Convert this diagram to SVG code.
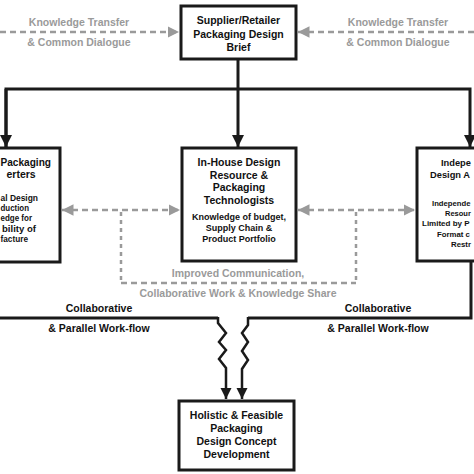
<svg xmlns="http://www.w3.org/2000/svg" width="474" height="474" viewBox="0 0 474 474">
<defs>
<style>
.box{fill:#fff;stroke:#1a1a1a;stroke-width:3}
.t{font-family:"Liberation Sans",Arial,sans-serif;font-weight:bold;font-size:10.5px;fill:#111;text-anchor:middle}
.s{font-family:"Liberation Sans",Arial,sans-serif;font-weight:bold;font-size:9px;fill:#111;text-anchor:middle}
.g{font-family:"Liberation Sans",Arial,sans-serif;font-weight:bold;font-size:10.5px;fill:#9a9a9a;text-anchor:middle}
.st{text-anchor:start}
.ln{fill:none;stroke:#1a1a1a;stroke-width:3}
.zz{fill:none;stroke:#1a1a1a;stroke-width:2.5;stroke-linejoin:miter}
.dh{fill:none;stroke:#9a9a9a;stroke-width:2.5;stroke-dasharray:6 4}
.dv{fill:none;stroke:#9a9a9a;stroke-width:2.5;stroke-dasharray:4 4}
</style>
<marker id="ab" viewBox="0 0 10 10" refX="10" refY="5" markerWidth="4" markerHeight="4" orient="auto" markerUnits="strokeWidth"><path d="M0,0L10,5L0,10z" fill="#1a1a1a"/></marker>
<marker id="ab2" viewBox="0 0 10 10" refX="10" refY="5" markerWidth="4.6" markerHeight="4.6" orient="auto" markerUnits="strokeWidth"><path d="M0,0L10,5L0,10z" fill="#1a1a1a"/></marker>
<marker id="ag" viewBox="0 0 10 10" refX="10" refY="5" markerWidth="4.6" markerHeight="4.6" orient="auto-start-reverse" markerUnits="strokeWidth"><path d="M0,0L10,5L0,10z" fill="#9a9a9a"/></marker>
</defs>
<rect width="474" height="474" fill="#fff"/>

<g id="connectors">
<path class="ln" d="M238,59V147" marker-end="url(#ab)"/>
<path class="ln" d="M6,147V89H470V147" marker-end="url(#ab)"/>
<path class="ln" d="M6,89V147" marker-end="url(#ab)"/>
<path class="ln" d="M-5,262V318H218"/>
<path class="ln" d="M471,261V318H248"/>
<path class="zz" d="M218,317V323L226,333L219,342L226,350L219,359L226,368V399" marker-end="url(#ab2)"/>
<path class="zz" d="M248,317V325L242,333L248,342L242,351L248,360L242,369V399" marker-end="url(#ab2)"/>
<path class="dh" d="M0,32H179" marker-end="url(#ag)"/>
<path class="dh" d="M474,32H298" marker-end="url(#ag)"/>
<path class="dh" d="M62,210H180" marker-start="url(#ag)" marker-end="url(#ag)"/>
<path class="dh" d="M298,210H415" marker-start="url(#ag)" marker-end="url(#ag)"/>
<path class="dv" d="M121,212V283"/>
<path class="dv" d="M356,212V283"/>
<path class="dh" d="M121,283H356"/>
</g>

<g id="labels">
<text class="g" x="79" y="26">Knowledge Transfer</text>
<text class="g" x="79" y="46">&amp; Common Dialogue</text>
<text class="g" x="398" y="26">Knowledge Transfer</text>
<text class="g" x="398" y="46">&amp; Common Dialogue</text>
<text class="g" x="238" y="277">Improved Communication,</text>
<text class="g" x="238" y="297">Collaborative Work &amp; Knowledge Share</text>
<text class="t" x="99" y="312">Collaborative</text>
<text class="t" x="99" y="332">&amp; Parallel Work-flow</text>
<text class="t" x="378" y="312">Collaborative</text>
<text class="t" x="378" y="332">&amp; Parallel Work-flow</text>
</g>

<g id="brief">
<rect class="box" x="181" y="6" width="115" height="53"/>
<text class="t" x="238.5" y="24">Supplier/Retailer</text>
<text class="t" x="238.5" y="37.5">Packaging Design</text>
<text class="t" x="238.5" y="51">Brief</text>
</g>

<g id="converters">
<rect class="box" x="-60" y="148" width="120" height="114"/>
<text class="t st" x="0.5" y="166" textLength="50.5" lengthAdjust="spacingAndGlyphs">Packaging</text>
<text class="t st" x="6.5" y="178">erters</text>
<text class="s st" x="0.5" y="200.5" textLength="37.5" lengthAdjust="spacingAndGlyphs">al Design</text>
<text class="s st" x="0.5" y="210.5" textLength="28.5" lengthAdjust="spacingAndGlyphs">duction</text>
<text class="s st" x="0.5" y="221" textLength="31.5" lengthAdjust="spacingAndGlyphs">edge for</text>
<text class="s st" x="2" y="231.5" textLength="34" lengthAdjust="spacingAndGlyphs">bility of</text>
<text class="s st" x="0.5" y="242" textLength="27.5" lengthAdjust="spacingAndGlyphs">facture</text>
</g>

<g id="inhouse">
<rect class="box" x="182" y="148" width="114" height="113"/>
<text class="t" x="239" y="166">In-House Design</text>
<text class="t" x="239" y="178.5">Resource &amp;</text>
<text class="t" x="239" y="191">Packaging</text>
<text class="t" x="239" y="204">Technologists</text>
<text class="s" x="239" y="220">Knowledge of budget,</text>
<text class="s" x="239" y="231">Supply Chain &amp;</text>
<text class="s" x="239" y="241.5">Product Portfolio</text>
</g>

<g id="agency">
<rect class="box" x="417" y="148" width="120" height="113"/>
<text class="t st" x="441" y="166" style="font-size:9.3px">Indepe</text>
<text class="t st" x="430" y="178" style="font-size:9.3px">Design A</text>
<text class="s st" x="432" y="206" style="font-size:7.7px">Independe</text>
<text class="s st" x="445" y="216" style="font-size:7.5px">Resour</text>
<text class="s st" x="422" y="226" style="font-size:8px">Limited by P</text>
<text class="s st" x="437" y="236.5" style="font-size:7.8px">Format c</text>
<text class="s st" x="451" y="247" style="font-size:7.8px">Restr</text>
</g>

<g id="holistic">
<rect class="box" x="179" y="401" width="115" height="69"/>
<text class="t" x="236.5" y="419">Holistic &amp; Feasible</text>
<text class="t" x="236.5" y="432">Packaging</text>
<text class="t" x="236.5" y="445">Design Concept</text>
<text class="t" x="236.5" y="458">Development</text>
</g>
</svg>
